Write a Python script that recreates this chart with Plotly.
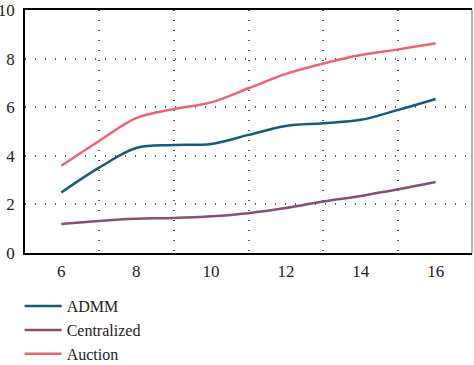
import plotly.graph_objects as go

x_vals = [6, 7, 8, 9, 10, 11, 12, 13, 14, 15, 16]
admm = [2.49, 3.5, 4.32, 4.44, 4.49, 4.86, 5.23, 5.34, 5.48, 5.89, 6.34]
centralized = [1.19, 1.32, 1.41, 1.44, 1.51, 1.64, 1.85, 2.12, 2.35, 2.62, 2.92]
auction = [3.59, 4.6, 5.55, 5.92, 6.2, 6.78, 7.37, 7.8, 8.15, 8.38, 8.63]
x_ticks = [6, 8, 10, 12, 14, 16]
x_grid = [7, 9, 11, 13, 15]
y_ticks = [0, 2, 4, 6, 8, 10]

series = [
    ("ADMM", admm, "#165a7c"),
    ("Centralized", centralized, "#8a4c70"),
    ("Auction", auction, "#ec6470"),
]

FONT = "Liberation Serif, DejaVu Serif, serif"
XR = [5.03, 16.97]

fig = go.Figure()
for name, vals, col in series:
    fig.add_trace(go.Scatter(x=x_vals, y=vals, name=name, mode="lines",
                             line=dict(color=col, width=2.5, shape="spline", smoothing=1.0)))
# invisible trace to carry the gridline axis
fig.add_trace(go.Scatter(x=x_grid, y=[None] * len(x_grid), xaxis="x2", showlegend=False,
                         hoverinfo="skip", mode="lines"))

fig.update_layout(
    width=474, height=365,
    margin=dict(l=25, r=2, t=10, b=112, autoexpand=False),
    paper_bgcolor="white", plot_bgcolor="white",
    font=dict(family=FONT, size=17, color="#222"),
    showlegend=True,
    legend=dict(x=-0.012, y=-0.149, xanchor="left", yanchor="top",
                font=dict(family=FONT, size=16, color="#222"),
                tracegroupgap=0, itemwidth=37, bgcolor="rgba(0,0,0,0)"),
    xaxis=dict(range=XR, tickvals=x_ticks, showgrid=False, automargin=False,
               showline=True, linecolor="black", linewidth=1.5, mirror=True,
               ticks="", zeroline=False, ticklabelstandoff=2),
    xaxis2=dict(range=XR, overlaying="x", tickvals=x_grid, showticklabels=False,
                showgrid=True, gridcolor="#555", griddash="1px,9px", gridwidth=1.5,
                showline=False, ticks="", zeroline=False, automargin=False),
    yaxis=dict(range=[0, 10], tickvals=y_ticks, showgrid=True, gridcolor="#555",
               griddash="1px,9px", gridwidth=1.5, automargin=False,
               showline=True, linecolor="black", linewidth=1.5, mirror=False,
               ticks="", zeroline=False, ticklabelstandoff=5),
)
fig.add_shape(type="line", xref="paper", yref="paper", x0=1, x1=1, y0=0, y1=1,
              line=dict(color="#999", width=1.5))

fig.write_html("out.html", config={"displayModeBar": False},
               post_script="document.body.style.margin='0';document.body.style.overflow='hidden';")
